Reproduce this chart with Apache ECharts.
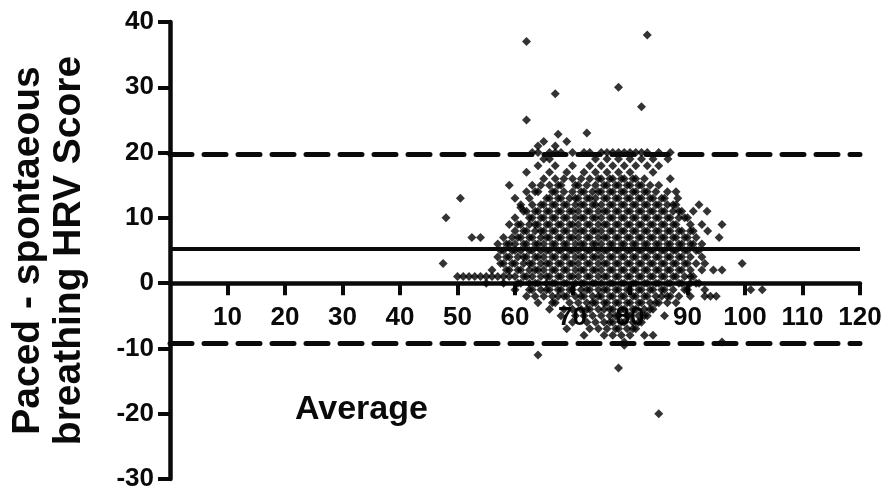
<!DOCTYPE html>
<html lang="en">
<head>
  <meta charset="utf-8">
  <style>
    html, body { margin: 0; padding: 0; background: #fff; }
    #container { width: 894px; height: 500px; }
  </style>
  <title>Paced vs spontaneous breathing HRV score</title>
</head>
<body>
  <div id="container"></div>

  <script type="text/javascript" src="https://fastly.jsdelivr.net/npm/echarts@6.0.0/dist/echarts.min.js"></script>
  <script type="text/javascript">
    // difference values (integer score steps) and the averages seen at each step
    var diffLevels = [20, 19, 18, 17, 16, 15, 14, 13, 12, 11, 10, 9, 8, 7, 6, 5, 4, 3, 2, 1, 0, -1, -2, -3, -4, -5, -6, -7, -8, -9];
    var avgAtLevel = [
      [63, 64, 66, 67, 68, 70, 72, 73, 75, 76, 77, 78, 79, 80, 81, 82, 83, 85, 87],
      [65, 66, 74, 76, 78, 80, 82, 84, 86.6],
      [64, 67, 70, 73, 75, 77, 79, 81, 83, 85],
      [62, 66, 69, 72, 74, 76, 78, 80, 84],
      [65, 67, 70, 73, 75, 77, 79, 81, 87],
      [59, 63, 66, 68, 71, 74, 76, 78, 80, 82, 85],
      [62, 64, 67, 70, 72, 75, 77, 79, 81, 83, 88],
      [60, 66, 68, 71, 73, 74, 76, 78, 80, 82, 84, 86, 88.3],
      [61, 63, 65, 67, 69, 72, 74, 75, 77, 79, 81, 83, 85, 88, 92],
      [62, 64, 66, 68, 70, 71, 73, 76, 78, 80, 82, 84, 86, 89, 91, 93.4],
      [60, 63, 65, 67, 69, 72, 74, 75, 77, 79, 81, 83, 85, 87, 90, 48],
      [59, 61, 64, 66, 68, 70, 71, 73, 76, 78, 80, 82, 84, 86, 88, 92.5, 96],
      [60, 62, 65, 67, 69, 72, 74, 75, 77, 79, 81, 83, 85, 87, 89, 91],
      [52.5, 54, 58, 61, 63, 66, 68, 70, 71, 73, 76, 78, 80, 82, 84, 86, 88, 90, 95.5],
      [57, 59, 60, 62, 64, 65, 67, 69, 72, 74, 75, 77, 79, 81, 83, 85, 87, 89, 91],
      [58, 60, 61, 63, 66, 68, 70, 71, 73, 76, 78, 80, 82, 84, 86, 88, 90, 92],
      [57, 59, 62, 64, 65, 67, 69, 72, 74, 75, 77, 79, 81, 83, 85, 87, 89],
      [47.5, 58, 60, 63, 66, 68, 70, 71, 73, 76, 78, 80, 82, 84, 86, 88, 90, 93, 99.5],
      [56, 59, 61, 64, 65, 67, 69, 72, 74, 75, 77, 79, 81, 83, 85, 87, 89, 96],
      [50, 51, 52, 53, 54, 55, 56, 57, 58, 59, 60, 62, 63, 66, 68, 70, 71, 73, 76, 78, 80, 82, 84, 86, 88, 91],
      [55, 58, 61, 64, 67, 69, 72, 74, 75, 77, 79, 81, 83, 85, 87, 89, 92],
      [60, 63, 66, 68, 70, 73, 76, 78, 80, 82, 84, 86, 90, 93, 101, 103],
      [62, 65, 69, 72, 75, 77, 79, 81, 83, 87, 93, 94, 95],
      [64, 67, 71, 74, 76, 78, 80, 82, 85, 88],
      [66, 70, 73, 77, 79, 81, 84],
      [68, 72, 75, 78, 80, 83, 86],
      [70, 74, 77, 79, 82],
      [69, 73, 76, 78, 81],
      [72, 77, 80, 84],
      [79, 96]
    ];
    // second pass over the crowded middle of the cloud
    var diffLevelsDense = [16, 15, 14, 13, 12, 11, 10, 9, 8, 7, 6, 5, 4, 3, 2, 1, 0, -1, -2, -3, -4, -5, -6, -7, -8];
    var avgDense = [
      [68, 71, 74, 76, 78, 80, 82],
      [64, 67, 70, 72, 75, 77, 79, 81, 83],
      [63, 66, 68, 71, 73, 74, 76, 78, 80, 82, 84, 86],
      [62, 65, 67, 69, 70, 72, 75, 77, 79, 81, 83, 85],
      [64, 66, 68, 70, 71, 73, 76, 78, 80, 82, 84, 86, 87],
      [61, 63, 65, 67, 69, 72, 74, 75, 77, 79, 81, 83, 85, 87, 88],
      [62, 64, 66, 68, 70, 71, 73, 76, 78, 80, 82, 84, 86, 88, 89],
      [60, 62, 63, 65, 67, 69, 72, 74, 75, 77, 79, 81, 83, 85, 87, 90],
      [61, 63, 64, 66, 68, 70, 71, 73, 76, 78, 80, 82, 84, 86, 88, 90, 93],
      [59, 60, 62, 64, 65, 67, 69, 72, 74, 75, 77, 79, 81, 83, 85, 87, 89, 91],
      [58, 61, 63, 66, 68, 70, 71, 73, 76, 78, 80, 82, 84, 86, 88, 90, 92],
      [57, 59, 62, 64, 65, 67, 69, 72, 74, 75, 77, 79, 81, 83, 85, 87, 89, 91],
      [58, 60, 61, 63, 66, 68, 70, 71, 73, 76, 78, 80, 82, 84, 86, 88, 90, 92],
      [57, 59, 61, 62, 64, 65, 67, 69, 72, 74, 75, 77, 79, 81, 83, 85, 87, 89, 91],
      [58, 60, 62, 63, 66, 68, 70, 71, 73, 76, 78, 80, 82, 84, 86, 88, 90, 92, 94],
      [61, 64, 65, 67, 69, 72, 74, 75, 77, 79, 81, 83, 85, 87, 89, 90],
      [60, 62, 63, 65, 66, 68, 70, 71, 73, 76, 78, 80, 82, 84, 86, 88, 90, 91],
      [62, 64, 65, 67, 69, 71, 72, 74, 75, 77, 79, 81, 83, 85, 87, 89],
      [63, 66, 67, 68, 70, 71, 73, 74, 76, 78, 80, 82, 84, 85, 86, 88, 90],
      [66, 69, 72, 73, 75, 77, 79, 81, 83, 84, 86],
      [68, 71, 72, 74, 75, 76, 78, 80, 82, 83],
      [70, 73, 76, 77, 79, 81, 82],
      [72, 75, 76, 78, 80, 81],
      [74, 77, 79, 80],
      [75, 78, 82]
    ];
    // scattered points off the integer rows
    var outliers = [
      [62, 37], [83, 38], [62, 25], [67, 29], [78, 30], [82, 27], [72.5, 23],
      [67.5, 22.8], [65, 21.7], [69, 21.7], [64, 21], [67, 21], [50.5, 13],
      [61, 11.6], [64, -11], [78, -13], [85, -20], [79, -9.5]
    ];
    var meanDiff = 5.2;
    var upperLimit = 19.8;
    var lowerLimit = -9.2;

    var points = [];
    diffLevels.forEach(function (d, i) {
      avgAtLevel[i].forEach(function (a) { points.push([a, d]); });
    });
    diffLevelsDense.forEach(function (d, i) {
      avgDense[i].forEach(function (a) { points.push([a + 0.5, d]); });
    });
    outliers.forEach(function (p) { points.push(p); });

    var font = '"Liberation Sans", Arial, sans-serif';
    var ink = '#0a0a0a';
    var gridTop = 22, gridBottom = 21, chartH = 500;
    // x axis sits on y = 0: pull it up from the grid bottom
    var zeroY = gridTop + (40 / 70) * (chartH - gridTop - gridBottom);
    var xAxisOffset = -((chartH - gridBottom) - zeroY);

    var myChart = echarts.init(document.getElementById('container'));

    var option = {
      animation: false,
      title: {
        text: 'Average',
        left: 290,
        top: 388,
        textStyle: { fontFamily: font, fontWeight: 'bold', fontSize: 34, color: ink }
      },
      grid: { left: 170, right: 34, top: gridTop, bottom: gridBottom, outerBoundsMode: 'none' },
      xAxis: {
        type: 'value',
        min: 0,
        max: 120,
        interval: 10,
        position: 'bottom',
        offset: xAxisOffset,
        splitLine: { show: false },
        axisLine: { onZero: false, lineStyle: { color: ink, width: 4.5 } },
        axisTick: { length: 12, lineStyle: { color: ink, width: 4 } },
        axisLabel: {
          showMinLabel: false,
          margin: 22,
          fontFamily: font, fontWeight: 'bold', fontSize: 26, color: ink
        }
      },
      yAxis: {
        type: 'value',
        min: -30,
        max: 40,
        interval: 10,
        name: 'Paced - spontaeous\nbreathing HRV Score',
        nameLocation: 'middle',
        nameGap: 80,
        nameTextStyle: { fontFamily: font, fontWeight: 'bold', fontSize: 39, color: ink, lineHeight: 41 },
        splitLine: { show: false },
        axisLine: { lineStyle: { color: ink, width: 4.5 } },
        axisTick: { length: 12, lineStyle: { color: ink, width: 4 } },
        axisLabel: { margin: 16, fontFamily: font, fontWeight: 'bold', fontSize: 26, color: ink }
      },
      series: [{
        type: 'scatter',
        symbol: 'diamond',
        symbolSize: 9,
        itemStyle: { color: '#000' },
        data: points,
        markLine: {
          silent: true,
          symbol: 'none',
          label: { show: false },
          data: [
            { yAxis: upperLimit, lineStyle: { type: [22, 12], cap: 'round', width: 5, color: ink } },
            { yAxis: meanDiff, lineStyle: { type: 'solid', width: 4, color: ink } },
            { yAxis: lowerLimit, lineStyle: { type: [22, 12], cap: 'round', width: 5, color: ink } }
          ]
        }
      }]
    };

    myChart.setOption(option);
  </script>
</body>
</html>
